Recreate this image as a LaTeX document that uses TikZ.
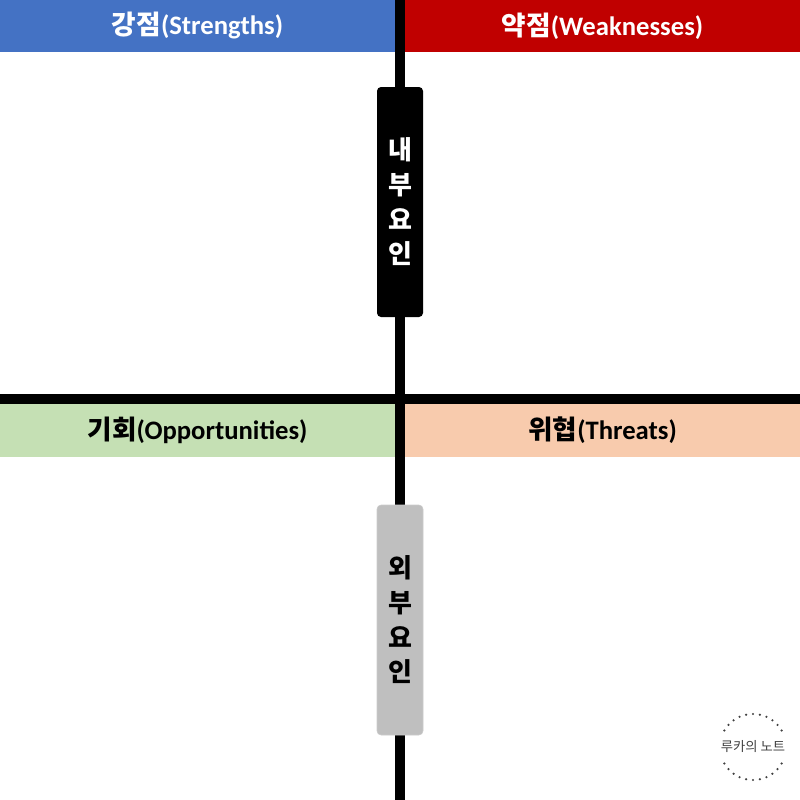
\documentclass[tikz,border=0pt]{standalone}
\usepackage{fontspec}
\setmainfont{Carlito}
\newfontfamily\kr{Noto Sans CJK KR}
\usepackage{xcolor}

\definecolor{sblue}{HTML}{4472C4}
\definecolor{wred}{HTML}{C00000}
\definecolor{ogreen}{HTML}{C5E0B4}
\definecolor{torange}{HTML}{F8CBAD}
\definecolor{extgray}{HTML}{BFBFBF}
\definecolor{logogray}{HTML}{404040}

\tikzset{
  head/.style={minimum width=296.25pt, minimum height=39pt, inner sep=0pt,
    font=\fontsize{20}{24}\selectfont\bfseries},
  sidebox/.style={minimum width=34.5pt, minimum height=172.5pt, inner sep=0pt,
    rounded corners=3pt, align=center, font=\kr\bfseries\fontsize{19.5}{26}\selectfont},
  axis/.style={line width=7.5pt}
}

\begin{document}
\begin{tikzpicture}[x=0.75pt,y=-0.75pt]
  \useasboundingbox (0,0) rectangle (800,800);
  % axes
  \coordinate (top) at (400,0);
  \coordinate (bottom) at (400,800);
  \coordinate (left) at (0,399);
  \coordinate (right) at (800,399);
  \draw[axis] (top) -- (bottom);
  \draw[axis] (left) -- (right);
  %%
  \node[head,fill=sblue,text=white] (S) at (197.5,26) {{\kr 강점}(Strengths)};
  \node[head,fill=wred,text=white] (W) at (602.5,26) {{\kr 약점}(Weaknesses)};
  \node[head,fill=ogreen,minimum height=39.75pt] (O) at (197.5,430.5) {{\kr 기회}(Opportunities)};
  \node[head,fill=torange,minimum height=39.75pt] (T) at (602.5,430.5) {{\kr 위협}(Threats)};
  %%
  \node[sidebox,fill=black,text=white] (int) at (400,202) {내\\부\\요\\인};
  \node[sidebox,fill=extgray,draw=extgray!80!white,text=black] (ext) at (400,620) {외\\부\\요\\인};
  %%
  \begin{scope}[shift={(753,747)}]
    \node[font=\kr\fontsize{10}{12}\selectfont,text=logogray] (logo) at (0,0) {루카의 노트};
    \foreach \a in {30,42,...,150}
      \fill[logogray] (\a:33) circle (1.2);
    \foreach \a in {210,222,...,330}
      \fill[logogray] (\a:33) circle (1.2);
  \end{scope}
\end{tikzpicture}
\end{document}
